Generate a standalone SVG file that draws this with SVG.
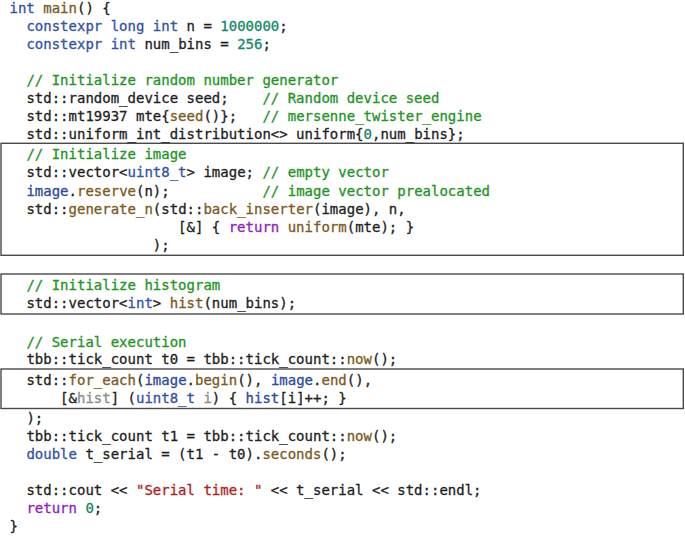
<svg xmlns="http://www.w3.org/2000/svg" width="685" height="536" viewBox="0 0 685 536" xml:space="preserve">
<style>
text{font-family:"DejaVu Sans Mono","Liberation Mono",monospace;font-size:14px;fill:#1e1e1e;stroke:#1e1e1e;stroke-width:0.3;white-space:pre}
.k{fill:#3352a8;stroke:#3352a8}
.f{fill:#7a5a22;stroke:#7a5a22}
.n{fill:#12896a;stroke:#12896a}
.c{fill:#23951f;stroke:#23951f}
.s{fill:#b01e1e;stroke:#b01e1e}
.r{fill:#9020c0;stroke:#9020c0}
.v{fill:#2d4a9e;stroke:#2d4a9e}
.p{fill:#8c8c8c;stroke:#8c8c8c}
.box{fill:none;stroke:#4a4a4a;stroke-width:1.4}
</style>
<rect width="685" height="536" fill="#ffffff"/>
<g id="box-image"><rect class="box" x="1" y="143.3" width="682.3" height="112"/></g>
<g id="box-hist"><rect class="box" x="1" y="274" width="682.3" height="40"/></g>
<g id="box-foreach"><rect class="box" x="1" y="369" width="682.3" height="39.5"/></g>
<g id="code">
<text x="9.5" y="12.7"><tspan class="k">int</tspan> <tspan class="f">main</tspan>() {</text>
<text x="26.4" y="30.5"><tspan class="k">constexpr</tspan> <tspan class="k">long</tspan> <tspan class="k">int</tspan> n = <tspan class="n">1000000</tspan>;</text>
<text x="26.4" y="48.7"><tspan class="k">constexpr</tspan> <tspan class="k">int</tspan> num_bins = <tspan class="n">256</tspan>;</text>
<text x="26.4" y="85" class="c">// Initialize random number generator</text>
<text x="26.4" y="102.7">std::random_device seed;    <tspan class="c">// Random device seed</tspan></text>
<text x="26.4" y="120.7">std::mt19937 mte{<tspan class="f">seed</tspan>()};   <tspan class="c">// mersenne_twister_engine</tspan></text>
<text x="26.4" y="138.7">std::uniform_int_distribution&lt;&gt; uniform{<tspan class="n">0</tspan>,num_bins};</text>
<text x="26.4" y="159" class="c">// Initialize image</text>
<text x="26.4" y="177">std::vector&lt;<tspan class="k">uint8_t</tspan>&gt; image; <tspan class="c">// empty vector</tspan></text>
<text x="26.4" y="195.5"><tspan class="v">image</tspan>.<tspan class="f">reserve</tspan>(n);           <tspan class="c">// image vector prealocated</tspan></text>
<text x="26.4" y="213.5">std::<tspan class="f">generate_n</tspan>(std::<tspan class="f">back_inserter</tspan>(image), n,</text>
<text x="178.1" y="231.5">[&amp;] { <tspan class="r">return</tspan> <tspan class="f">uniform</tspan>(mte); }</text>
<text x="152.8" y="249.5">);</text>
<text x="26.4" y="290" class="c">// Initialize histogram</text>
<text x="26.4" y="307.7">std::vector&lt;<tspan class="k">int</tspan>&gt; <tspan class="f">hist</tspan>(num_bins);</text>
<text x="26.4" y="346.7" class="c">// Serial execution</text>
<text x="26.4" y="364.3">tbb::tick_count t0 = tbb::tick_count::<tspan class="f">now</tspan>();</text>
<text x="26.4" y="385">std::<tspan class="f">for_each</tspan>(<tspan class="v">image</tspan>.<tspan class="f">begin</tspan>(), <tspan class="v">image</tspan>.<tspan class="f">end</tspan>(),</text>
<text x="60.1" y="402.7">[&amp;<tspan class="p">hist</tspan>] (<tspan class="k">uint8_t</tspan> <tspan class="p">i</tspan>) { <tspan class="v">hist</tspan>[i]++; }</text>
<text x="26.4" y="423">);</text>
<text x="26.4" y="441">tbb::tick_count t1 = tbb::tick_count::<tspan class="f">now</tspan>();</text>
<text x="26.4" y="459"><tspan class="k">double</tspan> t_serial = (t1 - t0).<tspan class="f">seconds</tspan>();</text>
<text x="26.4" y="495">std::cout &lt;&lt; <tspan class="s">"Serial time: "</tspan> &lt;&lt; t_serial &lt;&lt; std::endl;</text>
<text x="26.4" y="512.5"><tspan class="r">return</tspan> <tspan class="n">0</tspan>;</text>
<text x="9.5" y="530.7">}</text>
</g>
</svg>
